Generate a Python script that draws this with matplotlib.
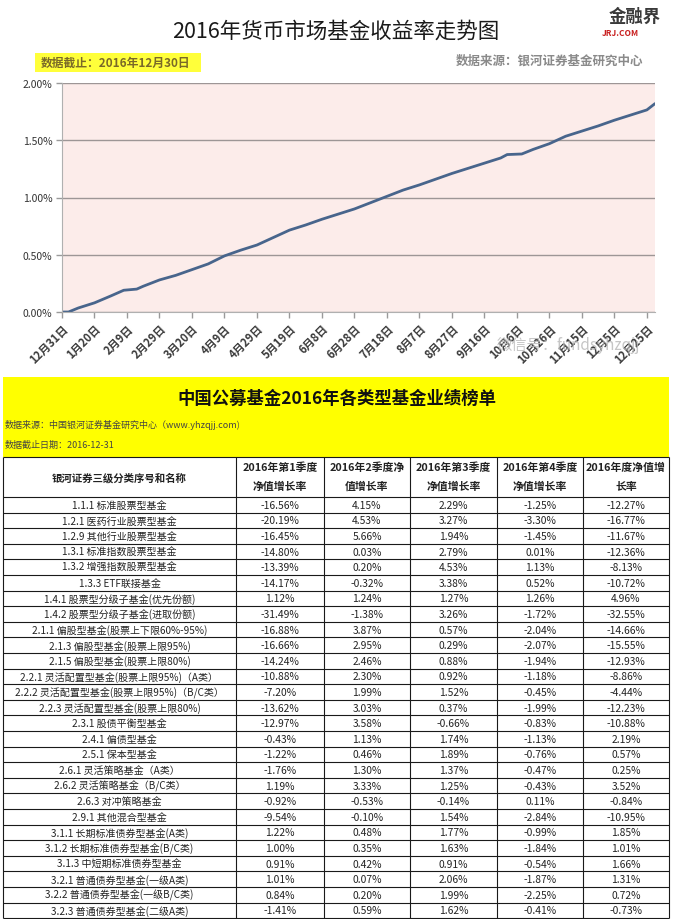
import matplotlib
matplotlib.use("Agg")
import pandas as pd
import matplotlib.pyplot as plt
from matplotlib.patches import Rectangle

plt.rcParams['font.family'] = ['Noto Sans CJK SC', 'DejaVu Sans']

# money market fund cumulative return in 2016 (%)
dates = ["2015-12-31", "2016-01-04", "2016-01-10", "2016-01-20", "2016-01-30",
         "2016-02-07", "2016-02-15", "2016-02-19", "2016-02-29", "2016-03-10",
         "2016-03-20", "2016-03-30", "2016-04-09", "2016-04-19", "2016-04-29",
         "2016-05-09", "2016-05-19", "2016-05-29", "2016-06-08", "2016-06-18",
         "2016-06-28", "2016-07-08", "2016-07-18", "2016-07-28", "2016-08-07",
         "2016-08-17", "2016-08-27", "2016-09-06", "2016-09-16", "2016-09-26",
         "2016-09-30", "2016-10-09", "2016-10-16", "2016-10-26", "2016-11-05",
         "2016-11-15", "2016-11-25", "2016-12-05", "2016-12-15", "2016-12-25",
         "2016-12-30"]
rate = [0.00, 0.00, 0.035, 0.08, 0.14,
        0.19, 0.20, 0.225, 0.28, 0.32,
        0.37, 0.42, 0.49, 0.54, 0.585,
        0.65, 0.715, 0.76, 0.81, 0.855,
        0.90, 0.955, 1.01, 1.065, 1.11,
        1.16, 1.21, 1.255, 1.30, 1.345,
        1.375, 1.38, 1.42, 1.47, 1.535,
        1.58, 1.625, 1.675, 1.72, 1.765,
        1.82]

tick_dates = pd.date_range("2015-12-31", periods=19, freq="20D")
tick_labels = ["12月31日", "1月20日", "2月9日", "2月29日", "3月20日", "4月9日",
               "4月29日", "5月19日", "6月8日", "6月28日", "7月18日", "8月7日",
               "8月27日", "9月16日", "10月6日", "10月26日", "11月15日", "12月5日",
               "12月25日"]
y_ticks = [0, 0.5, 1.0, 1.5, 2.0]
y_labels = ["0.00%", "0.50%", "1.00%", "1.50%", "2.00%"]

# fund performance table
names = ["1.1.1 标准股票型基金", "1.2.1 医药行业股票型基金", "1.2.9 其他行业股票型基金",
         "1.3.1 标准指数股票型基金", "1.3.2 增强指数股票型基金", "1.3.3 ETF联接基金",
         "1.4.1 股票型分级子基金(优先份额)", "1.4.2 股票型分级子基金(进取份额)",
         "2.1.1 偏股型基金(股票上下限60%-95%)", "2.1.3 偏股型基金(股票上限95%)",
         "2.1.5 偏股型基金(股票上限80%)", "2.2.1 灵活配置型基金(股票上限95%)（A类）",
         "2.2.2 灵活配置型基金(股票上限95%)（B/C类）", "2.2.3 灵活配置型基金(股票上限80%)",
         "2.3.1 股债平衡型基金", "2.4.1 偏债型基金", "2.5.1 保本型基金",
         "2.6.1 灵活策略基金（A类）", "2.6.2 灵活策略基金（B/C类）", "2.6.3 对冲策略基金",
         "2.9.1 其他混合型基金", "3.1.1 长期标准债券型基金(A类)", "3.1.2 长期标准债券型基金(B/C类)",
         "3.1.3 中短期标准债券型基金", "3.2.1 普通债券型基金(一级A类)",
         "3.2.2 普通债券型基金(一级B/C类)", "3.2.3 普通债券型基金(二级A类)"]
q1 = [-16.56, -20.19, -16.45, -14.80, -13.39, -14.17, 1.12, -31.49, -16.88, -16.66,
      -14.24, -10.88, -7.20, -13.62, -12.97, -0.43, -1.22, -1.76, 1.19, -0.92,
      -9.54, 1.22, 1.00, 0.91, 1.01, 0.84, -1.41]
q2 = [4.15, 4.53, 5.66, 0.03, 0.20, -0.32, 1.24, -1.38, 3.87, 2.95,
      2.46, 2.30, 1.99, 3.03, 3.58, 1.13, 0.46, 1.30, 3.33, -0.53,
      -0.10, 0.48, 0.35, 0.42, 0.07, 0.20, 0.59]
q3 = [2.29, 3.27, 1.94, 2.79, 4.53, 3.38, 1.27, 3.26, 0.57, 0.29,
      0.88, 0.92, 1.52, 0.37, -0.66, 1.74, 1.89, 1.37, 1.25, -0.14,
      1.54, 1.77, 1.63, 0.91, 2.06, 1.99, 1.62]
q4 = [-1.25, -3.30, -1.45, 0.01, 1.13, 0.52, 1.26, -1.72, -2.04, -2.07,
      -1.94, -1.18, -0.45, -1.99, -0.83, -1.13, -0.76, -0.47, -0.43, 0.11,
      -2.84, -0.99, -1.84, -0.54, -1.87, -2.25, -0.41]
year = [-12.27, -16.77, -11.67, -12.36, -8.13, -10.72, 4.96, -32.55, -14.66, -15.55,
        -12.93, -8.86, -4.44, -12.23, -10.88, 2.19, 0.57, 0.25, 3.52, -0.84,
        -10.95, 1.85, 1.01, 1.66, 1.31, 0.72, -0.73]
header1 = ["2016年第1季度", "2016年2季度净", "2016年第3季度", "2016年第4季度", "2016年度净值增"]
header2 = ["净值增长率", "值增长率", "净值增长率", "净值增长率", "长率"]

W, H = 674, 920
fig = plt.figure(figsize=(W / 100, H / 100), dpi=100)

# page layer in pixel coordinates
page = fig.add_axes([0, 0, 1, 1])
page.set_xlim(0, W)
page.set_ylim(H, 0)
page.axis("off")

page.text(336, 32, "2016年货币市场基金收益率走势图", ha="center", va="center",
          fontsize=15.5, color="#1a1a1a")
page.text(635, 17, "金融界", ha="center", va="center", fontsize=12.5,
          fontweight="bold", color="#3a3a3a")
page.text(620, 34, "JRJ.COM", ha="center", va="center", fontsize=6,
          fontweight="bold", style="italic", color="#c81e1e")
page.add_patch(Rectangle((35, 54), 166, 19, color="#ffff3a", lw=0))
page.text(41, 63.5, "数据截止：2016年12月30日", ha="left", va="center",
          fontsize=8.5, fontweight="bold", color="#7a6a28")
page.text(643, 61, "数据来源：银河证券基金研究中心", ha="right", va="center",
          fontsize=9, fontweight="bold", color="#8a8a8a")

# line chart
ax = fig.add_axes([62 / W, 1 - 313 / H, (655 - 62) / W, (313 - 84) / H])
ax.set_facecolor("#fcecea")
ax.plot(pd.to_datetime(dates), rate, color="#48658c", lw=2, solid_capstyle="round")
ax.set_xlim(pd.Timestamp("2015-12-31"), pd.Timestamp("2016-12-30"))
ax.set_ylim(0, 2.0)
ax.set_yticks(y_ticks)
ax.set_yticklabels(y_labels, fontsize=7.5, color="#333333")
ax.set_xticks(tick_dates)
ax.set_xticklabels(tick_labels, rotation=45, ha="right", va="top",
                   rotation_mode="anchor", fontsize=8, fontweight="bold",
                   color="#3a3a3a")
ax.yaxis.grid(True, color="#9d9696", lw=1)
ax.set_axisbelow(True)
for side in ["top", "right"]:
    ax.spines[side].set_visible(False)
for side in ["left", "bottom"]:
    ax.spines[side].set_color("#b0b0b0")
ax.tick_params(axis="both", colors="#9a9a9a", length=4, width=1, pad=3)
ax.tick_params(axis="x", labelcolor="#3a3a3a")
ax.tick_params(axis="y", labelcolor="#333333")

fig.text(568 / W, 1 - 345 / H, "微信号：fundsyhzqjj", ha="center", va="center",
         fontsize=11, color="#b8b8b8", alpha=0.8)

# yellow title block of the table
page.add_patch(Rectangle((3, 378), 666, 80, color="#ffff00", lw=0))
page.text(337, 399, "中国公募基金2016年各类型基金业绩榜单", ha="center", va="center",
          fontsize=12.5, fontweight="bold", color="#111111")
page.text(5, 425, "数据来源：中国银河证券基金研究中心（www.yhzqjj.com)", ha="left",
          va="center", fontsize=6.5, color="#444444")
page.text(5, 445, "数据截止日期：2016-12-31", ha="left", va="center",
          fontsize=6.5, color="#444444")

# table grid
col_x = [3, 236, 324, 410, 497, 583, 669]
top, head_bot, row_h = 458, 498, 15.6
n = len(names)
bottom = head_bot + n * row_h
page.hlines([top, head_bot] + [head_bot + row_h * (i + 1) for i in range(n)],
            col_x[0], col_x[-1], color="#1a1a1a", lw=0.8)
page.vlines(col_x, top, bottom, color="#1a1a1a", lw=0.8)

centers = [(col_x[i] + col_x[i + 1]) / 2 for i in range(6)]
page.text(centers[0], 478, "银河证券三级分类序号和名称", ha="center", va="center",
          fontsize=7.5, fontweight="bold", color="#222222")
for j in range(5):
    page.text(centers[j + 1], 468, header1[j], ha="center", va="center",
              fontsize=7.8, fontweight="bold", color="#222222")
    page.text(centers[j + 1], 487, header2[j], ha="center", va="center",
              fontsize=7.8, fontweight="bold", color="#222222")

for i in range(n):
    yc = head_bot + row_h * (i + 0.5)
    page.text(centers[0], yc, names[i], ha="center", va="center",
              fontsize=7.2, color="#222222")
    for j, col in enumerate([q1, q2, q3, q4, year]):
        page.text(centers[j + 1], yc, f"{col[i]:.2f}%", ha="center", va="center",
                  fontsize=7.4, color="#222222")

fig.savefig("out.png", dpi=100)
